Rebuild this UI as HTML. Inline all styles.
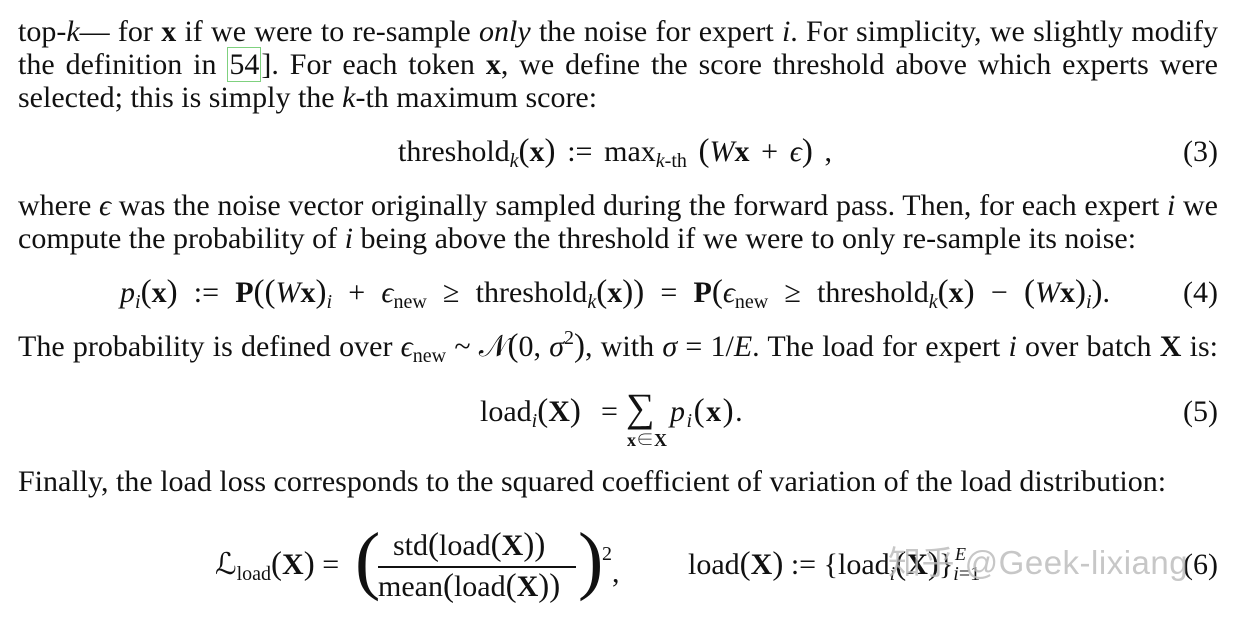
<!DOCTYPE html>
<html><head><meta charset="utf-8"><style>
body{margin:0;width:1248px;height:623px;background:#fff;overflow:hidden;position:relative;font-family:"Liberation Serif","Noto Serif CJK SC",serif;font-size:30px;color:#111}
.l{position:absolute;white-space:nowrap;line-height:33px;height:33px}
.j{left:18px;width:1200px;text-align:justify;text-align-last:justify;white-space:normal}
.e{text-align:justify;text-align-last:justify;white-space:normal;overflow:visible}
b{font-weight:bold}
i{font-style:italic}
sub{font-size:20px;vertical-align:-6px;line-height:0}
sup{font-size:20px;vertical-align:12px;line-height:0}
.cite{border:1.5px solid #7fd17f;padding:0 1px}
.num{position:absolute;left:1183px}
.p{font-size:33px}
</style></head><body>
<div class="l j" style="top:15px">top-<i>k</i>— for <b>x</b> if we were to re-sample <i>only</i> the noise for expert <i>i</i>. For simplicity, we slightly modify</div>
<div class="l j" style="top:48px">the definition in <span class="cite">54</span>]. For each token <b>x</b>, we define the score threshold above which experts were</div>
<div class="l" style="top:81px;left:18px">selected; this is simply the <i>k</i>-th maximum score:</div>
<div class="l e" style="top:135px;left:398px;width:434px">threshold<sub><i>k</i></sub><span class="p">(</span><b>x</b><span class="p">)</span> := max<sub><i>k</i>-th</sub> <span class="p">(</span><i>W</i><b>x</b> + <i>ϵ</i><span class="p">)</span> ,</div>
<div class="l num" style="top:135px">(3)</div>
<div class="l j" style="top:189px">where <i>ϵ</i> was the noise vector originally sampled during the forward pass. Then, for each expert <i>i</i> we</div>
<div class="l" style="top:222px;left:18px">compute the probability of <i>i</i> being above the threshold if we were to only re-sample its noise:</div>
<div class="l e" style="top:276px;left:120px;width:990px"><i>p<sub>i</sub></i><span class="p">(</span><b>x</b><span class="p">)</span> := <b>P</b><span class="p">((</span><i>W</i><b>x</b><span class="p">)</span><sub><i>i</i></sub> + <i>ϵ</i><sub>new</sub> ≥ threshold<sub><i>k</i></sub><span class="p">(</span><b>x</b><span class="p">))</span> = <b>P</b><span class="p">(</span><i>ϵ</i><sub>new</sub> ≥ threshold<sub><i>k</i></sub><span class="p">(</span><b>x</b><span class="p">)</span> − <span class="p">(</span><i>W</i><b>x</b><span class="p">)</span><sub><i>i</i></sub><span class="p">)</span>.</div>
<div class="l num" style="top:276px">(4)</div>
<div class="l j" style="top:330px">The probability is defined over <i>ϵ</i><sub>new</sub> ~ 𝒩<span class="p">(</span>0, <i>σ</i><sup>2</sup><span class="p">)</span>, with <i>σ</i> = 1/<i>E</i>. The load for expert <i>i</i> over batch <b>X</b> is:</div>
<div class="l" style="top:395px;left:480px">load<sub><i>i</i></sub><span class="p">(</span><b>X</b><span class="p">)</span></div>
<div class="l" style="top:395px;left:601px">=</div>
<div class="l" style="top:391px;left:626px;font-size:40px">∑</div>
<div class="l" style="top:395px;left:670px;letter-spacing:1.5px"><i>p<sub>i</sub></i><span class="p">(</span><b>x</b><span class="p">)</span>.</div>
<div class="l" style="top:430px;left:627px;font-size:18px;line-height:20px"><b>x</b>∈<b>X</b></div>
<div class="l num" style="top:395px">(5)</div>
<div class="l" style="top:465px;left:18px">Finally, the load loss corresponds to the squared coefficient of variation of the load distribution:</div>
<div class="l" style="top:548px;left:215px">ℒ<sub>load</sub><span class="p">(</span><b>X</b><span class="p">)</span> =</div>
<div class="l" style="top:512px;left:355px;font-size:76px;line-height:96px;height:96px;font-weight:200">(</div>
<div class="l" style="top:529px;left:393px">std<span class="p">(</span>load<span class="p">(</span><b>X</b><span class="p">))</span></div>
<div style="position:absolute;top:566px;left:378px;width:198px;height:1.5px;background:#111"></div>
<div class="l" style="top:570px;left:378px">mean<span class="p">(</span>load<span class="p">(</span><b>X</b><span class="p">))</span></div>
<div class="l" style="top:512px;left:578px;font-size:76px;line-height:96px;height:96px;font-weight:200">)</div>
<div class="l" style="top:538px;left:602px;font-size:20px">2</div>
<div class="l" style="top:556px;left:612px">,</div>
<div class="l" style="top:548px;left:688px">load<span class="p">(</span><b>X</b><span class="p">)</span> := {load<sub><i>i</i></sub><span class="p">(</span><b>X</b><span class="p">)</span>}<sub><i>i</i>=1</sub></div>
<div class="l" style="top:538px;left:955px;font-size:18px"><i>E</i></div>
<div class="l num" style="top:548px">(6)</div>
<div class="l" style="top:546px;left:888px;font-family:'Liberation Sans','Noto Sans CJK SC',sans-serif;font-size:33px;color:rgba(185,185,185,0.8);letter-spacing:0.5px">知乎 @Geek-lixiang</div>
</body></html>
